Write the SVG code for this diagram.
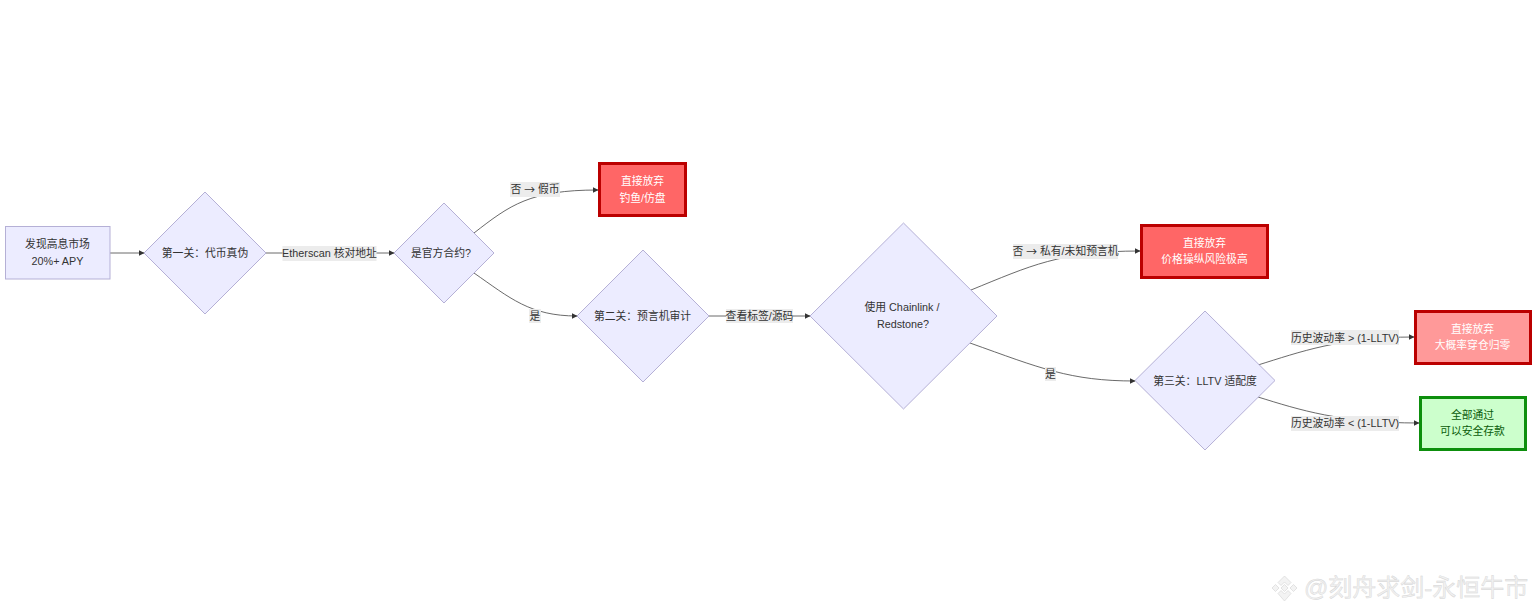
<svg xmlns="http://www.w3.org/2000/svg" width="1536" height="614" viewBox="0 0 1536 614">
<defs>
<marker id="arrow" markerUnits="userSpaceOnUse" markerWidth="7" markerHeight="7" refX="5.500" refY="3" orient="auto"><path d="M0 0L6 3L0 6z" fill="#333"/></marker>
</defs>
<style>
text{font-family:"Liberation Sans","Noto Sans CJK SC",sans-serif;font-size:10.8px;fill:#333;text-anchor:middle;dominant-baseline:central}
.ar{font-family:"Noto Sans CJK SC",sans-serif}
.n{fill:#ececff;stroke:#b5b0d6;stroke-width:1}
.red{fill:#ff6666;stroke:#bb0000;stroke-width:3}
.red2{fill:#ff9999;stroke:#bb0000;stroke-width:3}
.grn{fill:#ccffcc;stroke:#0d8f0d;stroke-width:3}
.w{fill:#fff}
.g{fill:#0a5c0a}
.e{fill:none;stroke:#444;stroke-width:.8;marker-end:url(#arrow)}
.lb{fill:#ececec}
.wm{font-size:24px;fill:#f1f1f1;stroke:#d4d4d4;stroke-width:.4;text-anchor:start}
</style>
<rect width="1536" height="614" fill="#fff"/>
<g id="connectors">
<path class="e" d="M110 253H144"/>
<path class="e" d="M266 253H394"/>
<path class="e" d="M474 233C510 205 530 190 598 190"/>
<path class="e" d="M474 273C510 298 530 316 577 316"/>
<path class="e" d="M709 316H810"/>
<path class="e" d="M971 290C1030 266 1060 251 1140 251"/>
<path class="e" d="M970 343C1040 368 1070 381 1135 381"/>
<path class="e" d="M1258 365C1300 352 1340 337 1414 337"/>
<path class="e" d="M1258 397C1300 410 1340 423 1419 423"/>
</g>
<g id="edge-labels">
<g><rect class="lb" x="282.500" y="246" width="94" height="15"/><text x="329.500" y="253">Etherscan 核对地址</text></g>
<g><rect class="lb" x="510" y="182" width="50" height="15"/><text x="535" y="189">否 <tspan class="ar">→</tspan> 假币</text></g>
<g><rect class="lb" x="529" y="309" width="12" height="14"/><text x="535" y="316">是</text></g>
<g><rect class="lb" x="726" y="309" width="67" height="14"/><text x="759.500" y="316">查看标签/源码</text></g>
<g><rect class="lb" x="1013" y="244" width="105" height="15"/><text x="1065.500" y="251">否 <tspan class="ar">→</tspan> 私有/未知预言机</text></g>
<g><rect class="lb" x="1045" y="367" width="11" height="14"/><text x="1050.500" y="374">是</text></g>
<g><rect class="lb" x="1291" y="330" width="108" height="15"/><text x="1345" y="337.500">历史波动率 &gt; (1-LLTV)</text></g>
<g><rect class="lb" x="1291" y="416" width="108" height="15"/><text x="1345" y="423">历史波动率 &lt; (1-LLTV)</text></g>
</g>
<g id="start"><rect class="n" x="5.500" y="226.500" width="104.500" height="52.500"/><text x="57.500" y="244">发现高息市场</text><text x="57.500" y="261">20%+ APY</text></g>
<g id="gate1"><polygon class="n" points="205,192 266,253 205,314 144,253"/><text x="205" y="253">第一关：代币真伪</text></g>
<g id="official"><polygon class="n" points="444,203 494,253 444,303 394,253"/><text x="441" y="253">是官方合约?</text></g>
<g id="reject1"><rect class="red" x="599.500" y="163.500" width="86" height="52"/><text class="w" x="642.500" y="181">直接放弃</text><text class="w" x="642.500" y="198">钓鱼/仿盘</text></g>
<g id="gate2"><polygon class="n" points="643,250 709,316 643,382 577,316"/><text x="642.500" y="316">第二关：预言机审计</text></g>
<g id="oracle"><polygon class="n" points="903.500,223 997,316 903.500,409 810,316"/><text x="902" y="307">使用 Chainlink /</text><text x="903" y="324">Redstone?</text></g>
<g id="reject2"><rect class="red" x="1141.500" y="225.500" width="126" height="52"/><text class="w" x="1204.500" y="243">直接放弃</text><text class="w" x="1204.500" y="259">价格操纵风险极高</text></g>
<g id="gate3"><polygon class="n" points="1205,311 1275,380.500 1205,450 1135,380.500"/><text x="1205" y="380.500">第三关：LLTV 适配度</text></g>
<g id="reject3"><rect class="red2" x="1415.500" y="311.500" width="115" height="52"/><text class="w" x="1472.500" y="329">直接放弃</text><text class="w" x="1472.500" y="345">大概率穿仓归零</text></g>
<g id="pass"><rect class="grn" x="1420.500" y="397.500" width="105" height="52"/><text class="g" x="1472.500" y="415">全部通过</text><text class="g" x="1472.500" y="431">可以安全存款</text></g>
<g id="watermark" fill="#f3f3f3" stroke="#d8d8d8" stroke-width=".7">
<path d="M1284.500 576L1291 582.500L1288 585.500L1284.500 582L1281 585.500L1278 582.500z"/>
<path d="M1272 588L1275.500 584.500L1279 588L1275.500 591.500z"/>
<path d="M1297 588L1293.500 584.500L1290 588L1293.500 591.500z"/>
<path d="M1284.500 584.500L1288 588L1284.500 591.500L1281 588z"/>
<path d="M1278 593.500L1281 590.500L1284.500 594L1288 590.500L1291 593.500L1284.500 601z"/>
<text class="wm" x="1304" y="587">@刻舟求剑-永恒牛市</text>
</g>
</svg>
